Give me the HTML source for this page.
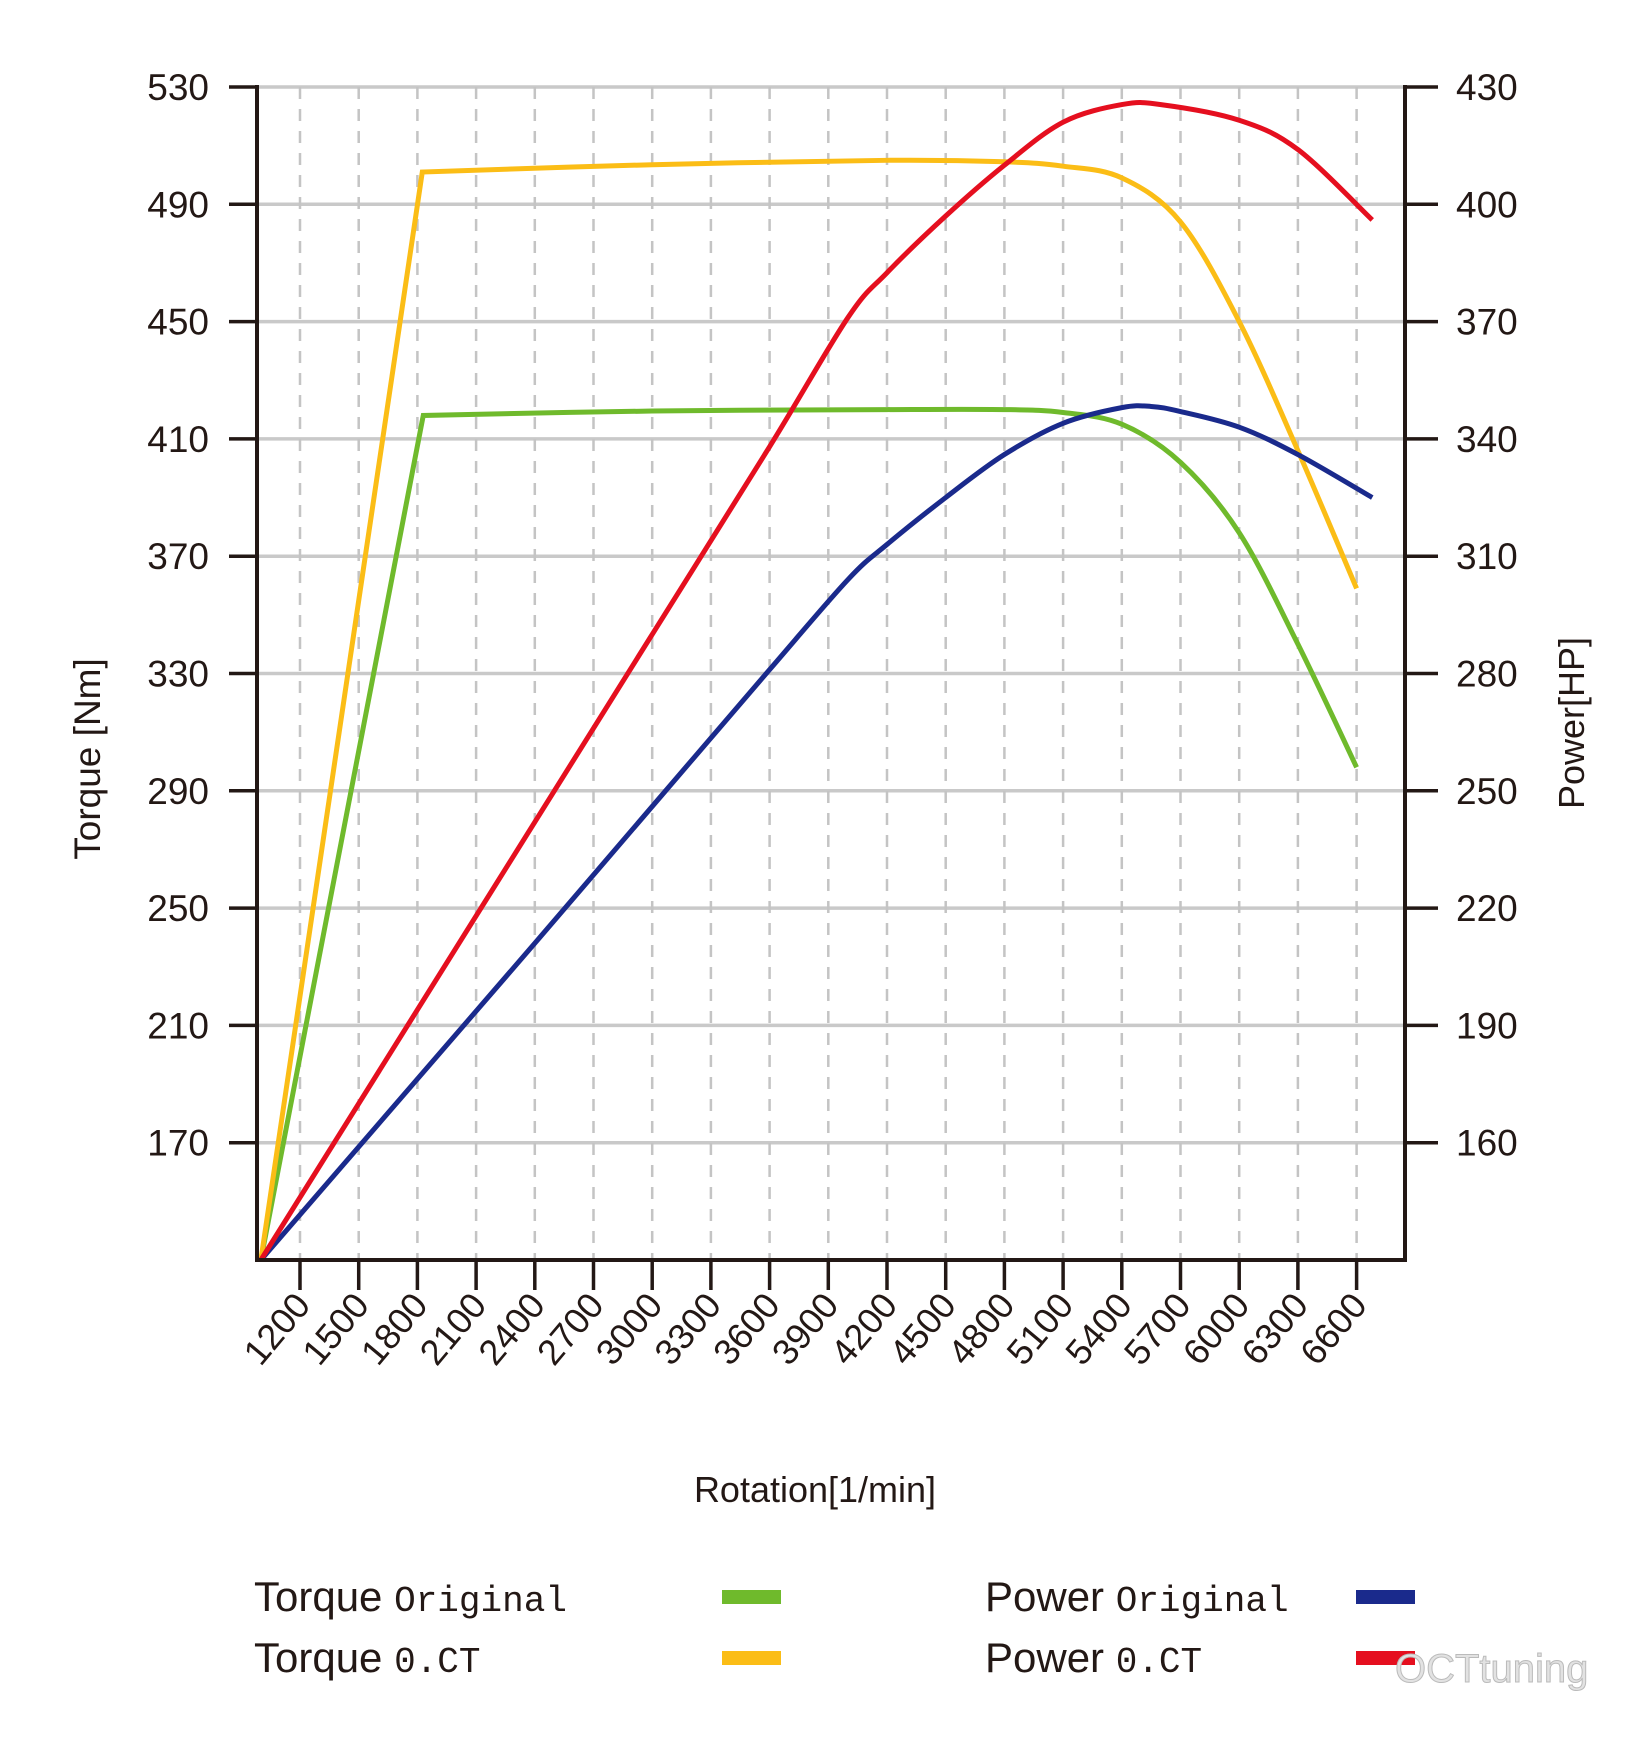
<!DOCTYPE html>
<html><head><meta charset="utf-8"><style>
html,body{margin:0;padding:0;background:#fff}
svg{display:block}
text{font-family:"Liberation Sans","DejaVu Sans",sans-serif;fill:#231815}
</style></head><body>
<svg id="chart" width="1643" height="1738" viewBox="0 0 1643 1738" xmlns="http://www.w3.org/2000/svg">
<g id="grid"></g>
<g id="series"></g>
<g id="axes"></g>
<text transform="translate(100,759) rotate(-90)" text-anchor="middle" font-size="37">Torque [Nm]</text>
<text transform="translate(1584,723) rotate(-90)" text-anchor="middle" font-size="36">Power[HP]</text>
<text x="815" y="1502" text-anchor="middle" font-size="36">Rotation[1/min]</text>
<g font-size="42">
<text x="254" y="1611">Torque <tspan font-family="Liberation Mono, monospace" font-size="36">Original</tspan></text>
<rect x="722" y="1590" width="59" height="14" fill="#6fba2c"/>
<text x="254" y="1672">Torque <tspan font-family="Liberation Mono, monospace" font-size="36">0.CT</tspan></text>
<rect x="722" y="1651" width="59" height="14" fill="#fbbd16"/>
<text x="985" y="1611">Power  <tspan font-family="Liberation Mono, monospace" font-size="36">Original</tspan></text>
<rect x="1356" y="1590" width="59" height="14" fill="#1a2a8c"/>
<text x="985" y="1672">Power  <tspan font-family="Liberation Mono, monospace" font-size="36">0.CT</tspan></text>
<rect x="1356" y="1651" width="59" height="14" fill="#e50f1f"/>
</g>
<text x="1395" y="1682" font-size="40" style="fill:#e2e2e2;stroke:#bbb;stroke-width:1">OCTtuning</text>
</svg>
<script>
const xTicks=[1200,1500,1800,2100,2400,2700,3000,3300,3600,3900,4200,4500,4800,5100,5400,5700,6000,6300,6600];
const torqueTicks=[170,210,250,290,330,370,410,450,490,530];
const powerTicks=[160,190,220,250,280,310,340,370,400,430];
const torqueOrigRpm=[1000,1830,3000,4200,4800,5100,5400,5700,6000,6300,6600];
const torqueOrigVal=[130,418,419.5,420,420,419,415,402,378,340,298];
const torqueOctRpm=[1000,1825,3000,4200,4800,5100,5400,5700,6000,6300,6600];
const torqueOctVal=[130,501,503.5,505,504.5,503,499,484,450,406,359];
const powerOrigRpm=[1000,2400,3000,3600,4000,4200,4500,4800,5100,5400,5550,5700,6000,6300,6680];
const powerOrigVal=[130,211,246,281,304,313,325,336,344,348,348.3,347,343,336,325];
const powerOctRpm=[1000,2400,3000,3600,4000,4200,4500,4800,5100,5400,5600,6000,6300,6680];
const powerOctVal=[130,242,290,338,371,382.5,397,410,421,425.5,425.5,421.5,414,396];

const L=257,R=1405,T=87,B=1260;
const X=r=>300+(r-1200)/300*58.7;
const YT=v=>B-(v-130)/400*(B-T);
const YP=v=>B-(v-130)/300*(B-T);
const NS='http://www.w3.org/2000/svg';
function mk(tag,attrs,parent){const e=document.createElementNS(NS,tag);for(const k in attrs)e.setAttribute(k,attrs[k]);parent.appendChild(e);return e;}
const grid=document.getElementById('grid'),axes=document.getElementById('axes'),ser=document.getElementById('series');
torqueTicks.forEach((v,i)=>{
  const y=YT(v);
  const g=mk('line',{x1:L,x2:R,y1:y,y2:y,stroke:'#c9c9c9','stroke-width':3.5},grid);
  
  
  const t=mk('line',{x1:L-28,x2:L,y1:y,y2:y,stroke:'#231815','stroke-width':3.5},axes);
  
  
  const lb=mk('text',{x:209,y:y+13,'text-anchor':'end','font-size':37},axes);lb.textContent=v;
  
  
  const t2=mk('line',{x1:R,x2:R+33,y1:YP(powerTicks[i]),y2:YP(powerTicks[i]),stroke:'#231815','stroke-width':3.5},axes);
  
  
  const lb2=mk('text',{x:1456,y:YP(powerTicks[i])+13,'font-size':37},axes);lb2.textContent=powerTicks[i];
  
  
});
xTicks.forEach(r=>{
  const x=X(r);
  const g=mk('line',{x1:x,x2:x,y1:T,y2:B,stroke:'#c4c4c4','stroke-width':2.5,'stroke-dasharray':'12 10'},grid);
  
  
  const t=mk('line',{x1:x,x2:x,y1:B,y2:B+30,stroke:'#231815','stroke-width':3.5},axes);
  
  
  const lb=mk('text',{transform:`translate(${x+12},${B+46}) rotate(-50)`,'text-anchor':'end','font-size':36},axes);lb.textContent=r;
  
  
});
const frame=mk('path',{d:`M${L},${T-2}V${B}H${R}V${T-2}`,fill:'none',stroke:'#231815','stroke-width':4},axes);


function path(rs,vs,Y){
  const p=rs.map((r,i)=>[X(r),Y(vs[i])]);
  let d=`M${p[0][0]},${p[0][1]}`;
  for(let i=0;i<p.length-1;i++){
    const p0=p[i-1]||p[i],p1=p[i],p2=p[i+1],p3=p[i+2]||p2;
    if(i===0){d+=`L${p2[0]},${p2[1]}`;continue;}
    const q0=(i===1)?p1:p0;
    const c1=[p1[0]+(p2[0]-q0[0])/6,p1[1]+(p2[1]-q0[1])/6];
    const c2=[p2[0]-(p3[0]-p1[0])/6,p2[1]-(p3[1]-p1[1])/6];
    d+=`C${c1[0]},${c1[1]} ${c2[0]},${c2[1]} ${p2[0]},${p2[1]}`;
  }
  return d;
}
const s1=mk('path',{d:path(torqueOrigRpm,torqueOrigVal,YT),fill:'none',stroke:'#6fba2c','stroke-width':5},ser);


const s2=mk('path',{d:path(torqueOctRpm,torqueOctVal,YT),fill:'none',stroke:'#fbbd16','stroke-width':5},ser);


const s3=mk('path',{d:path(powerOrigRpm,powerOrigVal,YP),fill:'none',stroke:'#1a2a8c','stroke-width':5},ser);


const s4=mk('path',{d:path(powerOctRpm,powerOctVal,YP),fill:'none',stroke:'#e50f1f','stroke-width':5},ser);


</script>
</body></html>
